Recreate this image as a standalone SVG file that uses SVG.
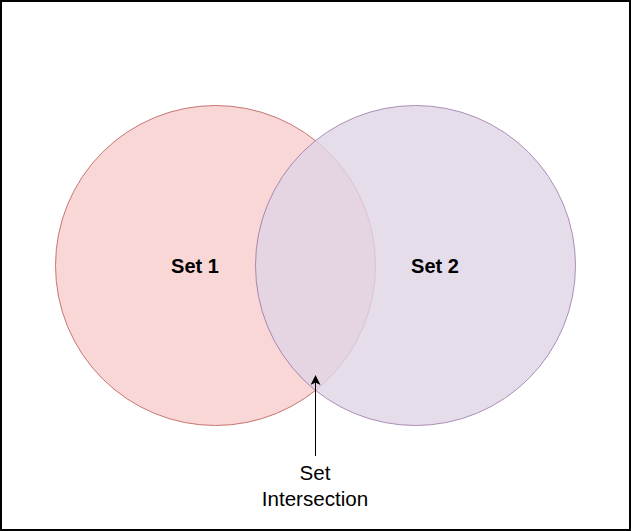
<svg xmlns="http://www.w3.org/2000/svg" width="631" height="531" viewBox="0 0 631 531">
<style>
.lbl{font-family:"Liberation Sans",Arial,sans-serif;font-size:20px;fill:#000;text-anchor:middle}
.b{font-weight:bold}
.s{font-size:20.6px}
</style>
<defs>
<marker id="ah" markerWidth="10" markerHeight="10" refX="8" refY="5" orient="auto" markerUnits="userSpaceOnUse">
<path d="M0,0 L10,5 L0,10 L2.5,5 Z" fill="#000"/>
</marker>
</defs>
<rect x="0" y="0" width="631" height="531" fill="#fff"/>
<rect x="1" y="1" width="629" height="529" fill="none" stroke="#000" stroke-width="2"/>
<g id="set1">
<circle cx="215.5" cy="265.5" r="160" fill="#f8cecc" stroke="#b85450" opacity="0.8"/>
<text class="lbl b" x="195" y="273">Set 1</text>
</g>
<g id="set2">
<circle cx="415.5" cy="265.5" r="160" fill="#e1d5e7" stroke="#9673a6" opacity="0.8"/>
<text class="lbl b" x="435" y="273">Set 2</text>
</g>
<g id="connectors">
<line x1="315.5" y1="456" x2="315.5" y2="377" stroke="#000" stroke-width="1" marker-end="url(#ah)"/>
</g>
<g id="label">
<text class="lbl s" x="315" y="480">Set</text>
<text class="lbl s" x="315" y="505.5">Intersection</text>
</g>
</svg>
